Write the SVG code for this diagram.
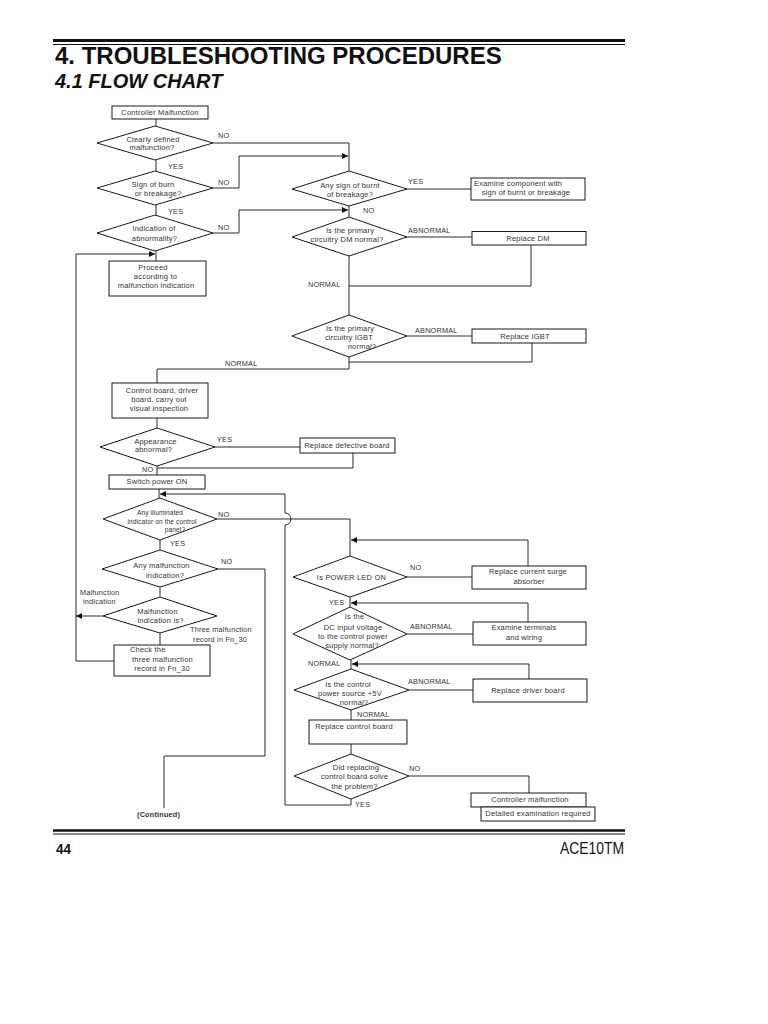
<svg xmlns="http://www.w3.org/2000/svg" width="768" height="1024" viewBox="0 0 768 1024">
<style>
.bg{fill:#ffffff}
.n{fill:#ffffff;stroke:#1a1a1a;stroke-width:1}
.c{fill:none;stroke:#2a2a2a;stroke-width:1}
.t{font-family:"Liberation Sans",Arial,sans-serif;font-size:7.5px;letter-spacing:0.2px;fill:#333;text-anchor:middle}
.s{font-family:"Liberation Sans",Arial,sans-serif;font-size:6.6px;letter-spacing:0.1px;fill:#333;text-anchor:middle}
.l{font-family:"Liberation Sans",Arial,sans-serif;font-size:7.3px;letter-spacing:0.2px;fill:#333}
.st{text-anchor:start}
.h1{font-family:"Liberation Sans",Arial,sans-serif;font-size:24px;font-weight:bold;fill:#111}
.h2{font-family:"Liberation Sans",Arial,sans-serif;font-size:20px;font-weight:bold;font-style:italic;fill:#111}
.ft{font-family:"Liberation Sans",Arial,sans-serif;fill:#111}
</style>
<defs>
<marker id="ah" viewBox="0 0 6 6" refX="6" refY="3" markerWidth="6" markerHeight="6" markerUnits="userSpaceOnUse" orient="auto">
<path d="M0,0 L6,3 L0,6 z" fill="#111"/>
</marker>
</defs>
<rect class="bg" x="0" y="0" width="768" height="1024"/>

<g id="header">
<line x1="53" y1="40.5" x2="625" y2="40.5" stroke="#111" stroke-width="3"/>
<line x1="53" y1="44.5" x2="625" y2="44.5" stroke="#111" stroke-width="1"/>
<text class="h1" x="55" y="64">4. TROUBLESHOOTING PROCEDURES</text>
<text class="h2" x="55" y="88">4.1 FLOW CHART</text>
</g>

<g id="footer">
<line x1="53" y1="830.5" x2="625" y2="830.5" stroke="#111" stroke-width="2.5"/>
<line x1="53" y1="834" x2="625" y2="834" stroke="#111" stroke-width="1"/>
<text class="ft" x="56" y="853.5" font-size="15.5" font-weight="bold" textLength="15" lengthAdjust="spacingAndGlyphs">44</text>
<text class="ft" x="560" y="853.5" font-size="16" textLength="64" lengthAdjust="spacingAndGlyphs">ACE10TM</text>
</g>

<g id="connectors">
<path class="c" d="M156 119 V126"/>
<path class="c" d="M156 160 V171"/>
<path class="c" d="M156 205 V215"/>
<path class="c" d="M156 251 V261"/>
<path class="c" d="M213 143 H349 V171"/>
<path class="c" d="M213 188 H239 V156 H348" marker-end="url(#ah)"/>
<path class="c" d="M213 233 H239 V210 H348" marker-end="url(#ah)"/>
<path class="c" d="M407 189 H471"/>
<path class="c" d="M349 206 V217"/>
<path class="c" d="M407 237 H472"/>
<path class="c" d="M531 245 V286 H349"/>
<path class="c" d="M349 256 V315"/>
<path class="c" d="M407 336 H472"/>
<path class="c" d="M532 343 V362 H349"/>
<path class="c" d="M349 357 V369 H157 V383"/>
<path class="c" d="M157 418 V428"/>
<path class="c" d="M215 447 H300"/>
<path class="c" d="M353 453 V468 H157"/>
<path class="c" d="M157 466 V475"/>
<path class="c" d="M159 489 V498"/>
<path class="c" d="M351 799 V805 H285 V525 A6 6 0 0 0 285 513 V494 H160" marker-end="url(#ah)"/>
<path class="c" d="M217 519 H350 V556"/>
<path class="c" d="M528 566 V540 H351" marker-end="url(#ah)"/>
<path class="c" d="M218 569 H265 V756 H164 V808"/>
<path class="c" d="M160 540 V550"/>
<path class="c" d="M160 587 V597"/>
<path class="c" d="M103 616 H76" marker-end="url(#ah)"/>
<path class="c" d="M160 633 V645"/>
<path class="c" d="M114 661 H76 V254 H155" marker-end="url(#ah)"/>
<path class="c" d="M407 577 H472"/>
<path class="c" d="M350 597 V607"/>
<path class="c" d="M528 622 V603 H351" marker-end="url(#ah)"/>
<path class="c" d="M407 634 H473"/>
<path class="c" d="M351 660 V669"/>
<path class="c" d="M529 679 V664 H352" marker-end="url(#ah)"/>
<path class="c" d="M409 690 H473"/>
<path class="c" d="M351 710 V720"/>
<path class="c" d="M351 744 V754"/>
<path class="c" d="M409 776 H529 V793"/>
</g>

<g id="labels">
<text class="l" x="218" y="137.5">NO</text>
<text class="l" x="168" y="169">YES</text>
<text class="l" x="218" y="185">NO</text>
<text class="l" x="168" y="214">YES</text>
<text class="l" x="218" y="230">NO</text>
<text class="l" x="408" y="184">YES</text>
<text class="l" x="363" y="212.5">NO</text>
<text class="l" x="408" y="232.5">ABNORMAL</text>
<text class="l" x="308" y="286.5">NORMAL</text>
<text class="l" x="415" y="333">ABNORMAL</text>
<text class="l" x="225" y="366">NORMAL</text>
<text class="l" x="217" y="441.5">YES</text>
<text class="l" x="142" y="471.5">NO</text>
<text class="l" x="218" y="516.5">NO</text>
<text class="l" x="170" y="546">YES</text>
<text class="l" x="221" y="564">NO</text>
<text class="l" x="80" y="595">Malfunction</text>
<text class="l" x="83" y="604">indication</text>
<text class="l" x="190" y="631.5">Three malfunction</text>
<text class="l" x="193" y="641.5">record in Fn_30</text>
<text class="l" x="410" y="570">NO</text>
<text class="l" x="329" y="605">YES</text>
<text class="l" x="410" y="629">ABNORMAL</text>
<text class="l" x="308" y="666">NORMAL</text>
<text class="l" x="408" y="684">ABNORMAL</text>
<text class="l" x="357" y="716.5">NORMAL</text>
<text class="l" x="409" y="770.5">NO</text>
<text class="l" x="355" y="806.5">YES</text>
<text class="l" x="137" y="817" font-weight="bold" font-size="9.5">(Continued)</text>
</g>

<g id="n-start">
<rect class="n" x="112" y="106" width="96" height="13"/>
<text class="t" x="160" y="114.5">Controller Malfunction</text>
</g>
<g id="n-clearly">
<polygon class="n" points="97,143 155,126 213,143 155,160"/>
<text class="t" x="153" y="141.5">Clearly defined</text>
<text class="t" x="152" y="150">malfunction?</text>
</g>
<g id="n-burn">
<polygon class="n" points="97,188 155,171 213,188 155,205"/>
<text class="t" x="153" y="186.5">Sign of burn</text>
<text class="t" x="158" y="195.5">or breakage?</text>
</g>
<g id="n-indication">
<polygon class="n" points="97,233 155,215 213,233 155,251"/>
<text class="t" x="154" y="231">Indication of</text>
<text class="t" x="154.5" y="241">abnormality?</text>
</g>
<g id="n-proceed">
<rect class="n" x="109" y="261" width="97" height="35"/>
<text class="t" x="153" y="270">Proceed</text>
<text class="t" x="155.5" y="279">according to</text>
<text class="t" x="156" y="288">malfunction indication</text>
</g>
<g id="n-anysign">
<polygon class="n" points="292,189 349,171 407,189 349,206"/>
<text class="t" x="350" y="188">Any sign of burnt</text>
<text class="t" x="350" y="196.5">of breakage?</text>
</g>
<g id="n-examine">
<rect class="n" x="471" y="178" width="114" height="22"/>
<text class="t st" x="474" y="186">Examine component with</text>
<text class="t" x="526" y="195">sign of burnt or breakage</text>
</g>
<g id="n-dm">
<polygon class="n" points="292,237 349,217 407,237 349,256"/>
<text class="t" x="350" y="233">Is the primary</text>
<text class="t" x="347" y="242">circuitry DM normal?</text>
</g>
<g id="n-repdm">
<rect class="n" x="472" y="231.5" width="114" height="13.5"/>
<text class="t" x="528" y="241">Replace DM</text>
</g>
<g id="n-igbt">
<polygon class="n" points="292,336 349,315 407,336 349,357"/>
<text class="t" x="350" y="331">Is the primary</text>
<text class="t" x="349" y="340">circuitry IGBT</text>
<text class="t" x="362" y="349">normal?</text>
</g>
<g id="n-repigbt">
<rect class="n" x="472" y="329" width="114" height="14"/>
<text class="t" x="525" y="338.5">Replace IGBT</text>
</g>
<g id="n-visual">
<rect class="n" x="112" y="383" width="96" height="35"/>
<text class="t" x="162" y="392.5">Control board, driver</text>
<text class="t" x="159" y="402">board, carry out</text>
<text class="t" x="159" y="411">visual inspection</text>
</g>
<g id="n-appearance">
<polygon class="n" points="100,447 157,428 215,447 157,466"/>
<text class="t" x="155.5" y="443.5">Appearance</text>
<text class="t" x="153.5" y="452">abnormal?</text>
</g>
<g id="n-defective">
<rect class="n" x="300" y="438" width="95" height="15"/>
<text class="t" x="347" y="447.5">Replace defective board</text>
</g>
<g id="n-switch">
<rect class="n" x="109" y="475" width="96" height="14"/>
<text class="t" x="157" y="484">Switch power ON</text>
</g>
<g id="n-illuminated">
<polygon class="n" points="103,519 160,498 217,519 160,540"/>
<text class="s" x="160" y="515">Any illuminated</text>
<text class="s" x="162" y="524">indicator on the control</text>
<text class="s" x="175" y="532">panel?</text>
</g>
<g id="n-anymalf">
<polygon class="n" points="102,569 160,550 218,569 160,587"/>
<text class="t" x="161.5" y="567.5">Any malfunction</text>
<text class="t" x="165" y="577.5">indication?</text>
</g>
<g id="n-malfis">
<polygon class="n" points="103,616 160,597 217,616 160,633"/>
<text class="t" x="157.5" y="614">Malfunction</text>
<text class="t" x="160.5" y="623">indication is?</text>
</g>
<g id="n-check">
<rect class="n" x="114" y="645" width="96" height="31"/>
<text class="t st" x="130" y="652">Check the</text>
<text class="t" x="162.5" y="662">three malfunction</text>
<text class="t" x="162" y="671">record in Fn_30</text>
</g>
<g id="n-powerled">
<polygon class="n" points="293,577 350,556 407,577 350,597"/>
<text class="t" x="351.5" y="580">Is POWER LED  ON</text>
</g>
<g id="n-surge">
<rect class="n" x="472" y="566" width="114" height="23"/>
<text class="t" x="528" y="573.5">Replace current surge</text>
<text class="t" x="529" y="584">absorber</text>
</g>
<g id="n-dcinput">
<polygon class="n" points="293,634 350,607 407,634 350,660"/>
<text class="t" x="354.5" y="619">Is the</text>
<text class="t" x="353" y="629.5">DC input voltage</text>
<text class="t" x="353" y="639">to the control power</text>
<text class="t" x="352" y="648">supply normal?</text>
</g>
<g id="n-terminals">
<rect class="n" x="473" y="622" width="113" height="23"/>
<text class="t" x="524" y="630">Examine terminals</text>
<text class="t" x="524" y="639.5">and wiring</text>
</g>
<g id="n-5v">
<polygon class="n" points="294,690 351,669 409,690 351,710"/>
<text class="t" x="348" y="686.5">Is the control</text>
<text class="t" x="350" y="696">power source +5V</text>
<text class="t" x="354" y="705">normal?</text>
</g>
<g id="n-driver">
<rect class="n" x="473" y="679" width="114" height="23"/>
<text class="t" x="528" y="692.5">Replace driver board</text>
</g>
<g id="n-control">
<rect class="n" x="309" y="720" width="98" height="24"/>
<text class="t" x="354" y="729">Replace control board</text>
</g>
<g id="n-solve">
<polygon class="n" points="294,776 351,754 409,776 351,799"/>
<text class="t" x="356" y="770">Did replacing</text>
<text class="t" x="354.5" y="779">control board solve</text>
<text class="t" x="354.5" y="789">the problem?</text>
</g>
<g id="n-ctrlmalf">
<rect class="n" x="471" y="793" width="115" height="14"/>
<text class="t" x="530" y="801.5">Controller malfunction</text>
</g>
<g id="n-detailed">
<rect class="n" x="481" y="807" width="114" height="14"/>
<text class="t" x="538" y="815.5">Detailed examination required</text>
</g>
</svg>
